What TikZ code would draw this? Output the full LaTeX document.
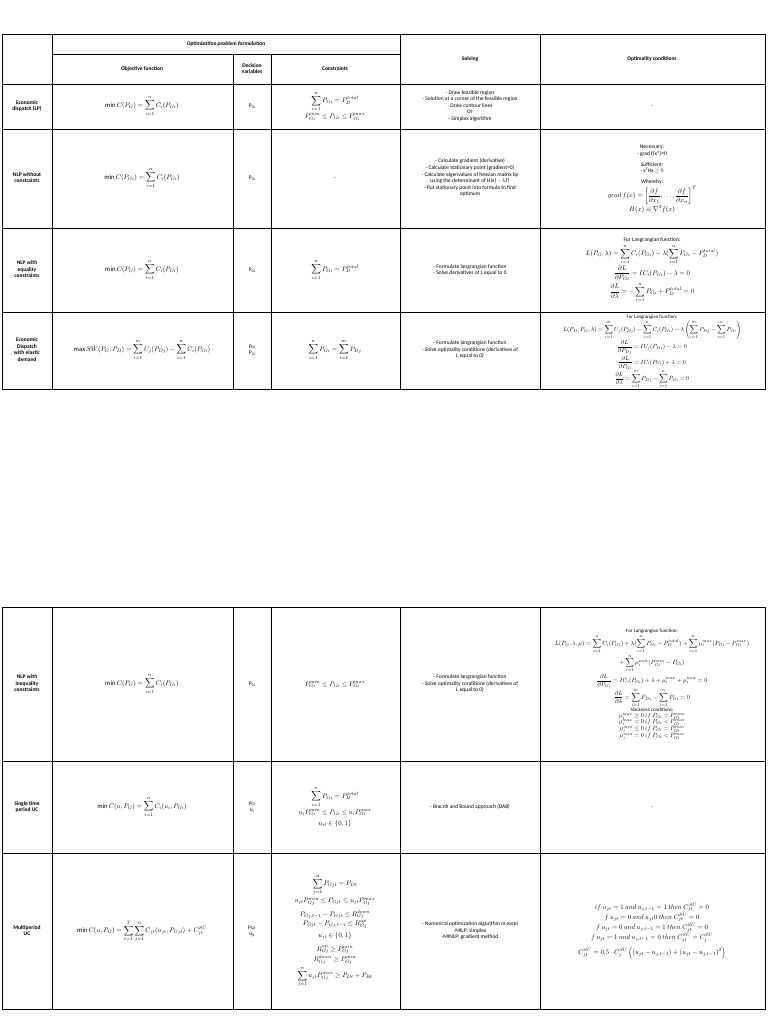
\documentclass[tikz,border=0pt]{standalone}
\usepackage{amsmath,amssymb}
\usepackage{fontspec}
\setmainfont{Carlito}
\newcommand\cc[2][0.55]{\scalebox{#1}{\begin{tabular}{@{}c@{}}#2\end{tabular}}}
\newcommand\hh[1]{\scalebox{0.55}{\bfseries\begin{tabular}{@{}c@{}}#1\end{tabular}}}
\newcommand\m[1]{\setbox0\hbox{\scalebox{1.22}{$\displaystyle #1$}}\raisebox{0pt}[\dimexpr\ht0+1.5pt][\dimexpr\dp0+1.5pt]{\copy0}}
\newcommand\ms[1]{\scalebox{1.22}{$#1$}}
\begin{document}
\begin{tikzpicture}[x=1pt,y=-1pt,
 cell/.style={align=center,inner sep=1pt},
 hd/.style={cell},
 grid/.style={line width=0.8pt}]
\useasboundingbox (0,0) rectangle (768,1024);
\fill[white] (0,0) rectangle (768,1024);
% table 1
\draw[grid] (2,34) rectangle (765,389);
\foreach \x in {52,400,540} \draw[grid] (\x,34) -- (\x,389);
\foreach \x in {233,271} \draw[grid] (\x,54) -- (\x,389);
\draw[grid] (52,54) -- (400,54);
\foreach \y in {84,129,228,312} \draw[grid] (2,\y) -- (765,\y);
% table 2
\draw[grid] (2,607) rectangle (765,1009);
\foreach \x in {52,233,271,400,540} \draw[grid] (\x,607) -- (\x,1009);
\foreach \y in {761,853} \draw[grid] (2,\y) -- (765,\y);
% headers
\node[hd] (h0) at (226,44) {\hh{\itshape Optimization problem formulation}};
\node[hd] (h1) at (142,69) {\hh{Objective function}};
\node[hd] (h2) at (252,69) {\hh{Decision\\variables}};
\node[hd] (h3) at (335,69) {\hh{Constraints}};
\node[hd] (h4) at (470,59) {\hh{Solving}};
\node[hd] (h5) at (652,59) {\hh{Optimality conditions}};
% row 1
\node[hd] (r1) at (27,106) {\hh{Economic\\dispatch (LP)}};
\node[cell] (o1) at (142,106) {\cc{\m{\min C(P_G)=\sum_{i=1}^{n}C_i(P_{Gi})}}};
\node[cell] (d1) at (252,106) {\cc{P\textsubscript{Gi}}};
\node[cell] (c1) at (335,106) {\cc{\m{\sum_{i=1}^{n}P_{Gi}=P_D^{total}}\\[4pt]\m{P_{Gi}^{min}\le P_{Gi}\le P_{Gi}^{max}}}};
\node[cell] (s1) at (470,106) {\cc{- Draw feasible region\\- Solution at a corner of the feasible region\\- Draw contour lines\\Or\\- Simplex algorithm}};
\node[cell] (p1) at (652,106) {\cc{-}};
% row 2
\node[hd] (r2) at (27,178) {\hh{NLP without\\constraints}};
\node[cell] (o2) at (142,178) {\cc{\m{\min C(P_{Gi})=\sum_{i=1}^{n}C_i(P_{Gi})}}};
\node[cell] (d2) at (252,178) {\cc{P\textsubscript{Gi}}};
\node[cell] (c2) at (335,178) {\cc{-}};
\node[cell] (s2) at (470,178) {\cc{- Calculate gradient (derivative)\\- Calculate stationary point (gradient=0)\\- Calculate eigenvalues of hessian matrix by\\using the determinant of H(x) $-\lambda I$)\\- Put stationary point into formula to find\\optimum}};
\node[cell] (p2) at (652,179) {\cc{Necessary:\\- grad f(x*)=0\\[8pt]Sufficient:\\- x\textsuperscript{T}Hx $\ge 0$\\[8pt]Whereby:\\\m{grad\,f(x)=\left[\frac{\partial f}{\partial x_1},\dots,\frac{\partial f}{\partial x_n}\right]^T}\\[4pt]\m{H(x)\equiv\nabla^2 f(x)}}};
% row 3
\node[hd] (r3) at (27,270) {\hh{NLP with\\equality\\constraints}};
\node[cell] (o3) at (142,270) {\cc{\m{\min C(P_G)=\sum_{i=1}^{n}C_i(P_{Gi})}}};
\node[cell] (d3) at (252,270) {\cc{P\textsubscript{Gi}}};
\node[cell] (c3) at (335,270) {\cc{\m{\sum_{i=1}^{n}P_{Gi}=P_D^{total}}}};
\node[cell] (s3) at (470,270) {\cc{- Formulate langrangian function\\- Solve derivatives of L equal to 0}};
\node[cell] (p3) at (652,270) {\cc{For Langrangian function:\\\m{L(P_G,\lambda)=\sum_{i=1}^{n}C_i(P_{Gi})-\lambda(\sum_{i=1}^{n}P_{Gi}-P_D^{total})}\\[4pt]\m{\frac{\partial L}{\partial P_{Gi}}=IC_i(P_{Gi})-\lambda=0}\\\m{\frac{\partial L}{\partial\lambda}=-\sum_{i=1}^{n}P_{Gi}+P_D^{total}=0}}};
% row 4
\node[hd] (r4) at (27,350) {\hh{Economic\\Dispatch\\with elastic\\demand}};
\node[cell] (o4) at (142,350) {\cc{\m{\max SW(P_G,P_D)=\sum_{i=1}^{m}U_j(P_{Dj})-\sum_{i=1}^{n}C_i(P_{Gi})}}};
\node[cell] (d4) at (252,350) {\cc{P\textsubscript{Dj}\\P\textsubscript{Gi}}};
\node[cell] (c4) at (335,350) {\cc{\m{\sum_{i=1}^{n}P_{Gi}=\sum_{i=1}^{m}P_{Dj}}}};
\node[cell] (s4) at (470,350) {\cc{- Formulate langrangian function\\- Solve optimality conditions (derivatives of\\L equal to 0)}};
\node[cell] (p4) at (652,351.5) {\cc[0.49]{For Langrangian function:\\\m{L(P_D,P_G,\lambda)=\sum_{i=1}^{m}U_j(P_{Dj})-\sum_{i=1}^{n}C_i(P_{Gi})-\lambda\left(\sum_{i=1}^{m}P_{Dj}-\sum_{i=1}^{n}P_{Gi}\right)}\\\m{\frac{\partial L}{\partial P_{Dj}}=IU_j(P_{Dj})-\lambda=0}\\\m{\frac{\partial L}{\partial P_{Gi}}=IC_i(P_{Gi})+\lambda=0}\\\m{\frac{\partial L}{\partial\lambda}=\sum_{i=1}^{m}P_{Dj}-\sum_{i=1}^{n}P_{Gi}=0}}};
% row 5
\node[hd] (r5) at (27,684) {\hh{NLP with\\inequality\\constraints}};
\node[cell] (o5) at (142,684) {\cc{\m{\min C(P_G)=\sum_{i=1}^{n}C_i(P_{Gi})}}};
\node[cell] (d5) at (252,684) {\cc{P\textsubscript{Gi}}};
\node[cell] (c5) at (335,684) {\cc{\m{P_{Gi}^{min}\le P_{Gi}\le P_{Gi}^{max}}}};
\node[cell] (s5) at (470,684) {\cc{- Formulate langrangian function\\- Solve optimality conditions (derivatives of\\L equal to 0)}};
\node[cell] (p5) at (652,684) {\cc[0.5]{For Langrangian function:\\\m{L(P_G,\lambda,\mu)=\sum_{i=1}^{n}C_i(P_{Gi})+\lambda(\sum_{i=1}^{n}P_{Gi}-P_D^{total})+\sum_{i=1}^{n}\mu_i^{max}(P_{Gi}-P_{Gi}^{max})}\\\m{+\sum_{i=1}^{n}\mu_i^{min}(P_{Gi}^{min}-P_{Gi})}\\\m{\frac{\partial L}{\partial P_{Gi}}=IC_i(P_{Gi})+\lambda+\mu_i^{max}+\mu_i^{min}=0}\\\m{\frac{\partial L}{\partial\lambda}=\sum_{i=1}^{m}P_{Dj}-\sum_{i=1}^{n}P_{Gi}=0}\\[6pt]Slackness conditions:\\\ms{\mu_i^{max}\ge0\ if\ P_{Gi}=P_{Gi}^{max}}\\\ms{\mu_i^{max}=0\ if\ P_{Gi}<P_{Gi}^{max}}\\\ms{\mu_i^{min}\le0\ if\ P_{Gi}=P_{Gi}^{min}}\\\ms{\mu_i^{min}=0\ if\ P_{Gi}<P_{Gi}^{min}}}};
% row 6
\node[hd] (r6) at (27,807) {\hh{Single time\\period UC}};
\node[cell] (o6) at (142,807) {\cc{\m{\min C(u,P_G)=\sum_{i=1}^{n}C_i(u_i,P_{Gi})}}};
\node[cell] (d6) at (252,807) {\cc{P\textsubscript{Gi}\\u\textsubscript{i}}};
\node[cell] (c6) at (335,807) {\cc{\m{\sum_{i=1}^{n}P_{Gi}=P_D^{total}}\\[6pt]\m{u_iP_{Gi}^{min}\le P_{Gi}\le u_iP_{Gi}^{max}}\\[6pt]\m{u_{it}\in\{0,1\}}}};
\node[cell] (s6) at (470,807) {\cc{- Bracnh and Bound approach (BAB)}};
\node[cell] (p6) at (652,807) {\cc{-}};
% row 7
\node[hd] (r7) at (27,931) {\hh{Multiperiod\\UC}};
\node[cell] (o7) at (142,931) {\cc{\m{\min C(u,P_G)=\sum_{t=1}^{T}\sum_{j=1}^{n}C_{jt}(u_{jt},P_{Gjt})+C_{jt}^{SU}}}};
\node[cell] (d7) at (252,931) {\cc{P\textsubscript{Gjt}\\u\textsubscript{jt}}};
\node[cell] (c7) at (335,931) {\cc{\m{\sum_{j=1}^{n}P_{Gjt}=P_{Dt}}\\[8pt]\m{u_{jt}P_{Gj}^{min}\le P_{Gjt}\le u_{jt}P_{Gj}^{max}}\\[8pt]\m{P_{Gj,t-1}-P_{Gjt}\le R_{Gj}^{down}}\\\m{P_{Gjt}-P_{Gj,t-1}\le R_{Gj}^{up}}\\[8pt]\m{u_{jt}\in\{0,1\}}\\[8pt]\m{R_{Gj}^{up}\ge P_{Gj}^{min}}\\\m{R_{Gj}^{down}\ge P_{Gj}^{min}}\\[4pt]\m{\sum_{j=1}^{n}u_{jt}P_{Gj}^{max}\ge P_{Dt}+P_{Rt}}}};
\node[cell] (s7) at (470,931) {\cc{- Numerical optimization algorithm in excel\\-MILP: simplex\\-MINLP: gradient method}};
\node[cell] (p7) at (652,931) {\cc{\m{if\ u_{jt}=1\ and\ u_{j,t-1}=1\ then\ C_{jt}^{SU}=0}\\\m{f\ u_{jt}=0\ and\ u_{jt}0\ then\ C_{jt}^{SU}=0}\\\m{f\ u_{jt}=0\ and\ u_{j,t-1}=1\ then\ C_{jt}^{SU}=0}\\\m{f\ u_{jt}=1\ and\ u_{j,t-1}=0\ then\ C_{jt}^{SU}=C_j^{SU}}\\[8pt]\m{C_{jt}^{SU}=0{,}5\cdot C_j^{SU}\left(\left(u_{jt}-u_{j,t-1}\right)+\left(u_{jt}-u_{j,t-1}\right)^2\right)}}};
\end{tikzpicture}
\end{document}
